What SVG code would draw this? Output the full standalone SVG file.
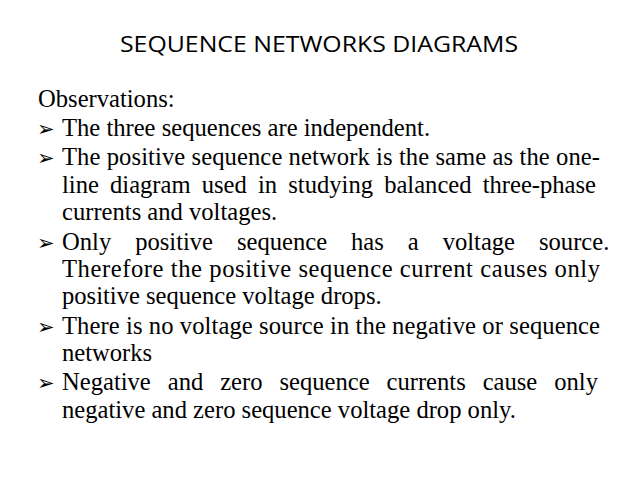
<svg xmlns="http://www.w3.org/2000/svg" width="638" height="478" viewBox="0 0 638 478">
<style>
.t{font-family:"Liberation Serif",serif;font-size:24.6px;fill:#000}
.b{font-family:"DejaVu Sans",sans-serif;font-size:21px;fill:#000}
.h{font-family:"Open Sans","Liberation Sans",sans-serif;font-size:21px;fill:#000}
</style>
<rect width="638" height="478" fill="#fff"/>
<text class="h" x="319" y="52" text-anchor="middle" textLength="398" lengthAdjust="spacingAndGlyphs">SEQUENCE NETWORKS DIAGRAMS</text>
<text class="t" x="38" y="107">Observations:</text>
<text class="b" x="37" y="136">➢</text>
<text class="t" x="62" y="136">The three sequences are independent.</text>
<text class="b" x="37" y="165">➢</text>
<text class="t" x="62" y="165" textLength="538" lengthAdjust="spacing">The positive sequence network is the same as the one-</text>
<text class="t" x="62" y="193" word-spacing="5">line diagram used in studying balanced three-phase</text>
<text class="t" x="62" y="220">currents and voltages.</text>
<text class="b" x="37" y="250">➢</text>
<text class="t" x="62" y="250" word-spacing="17.8">Only positive sequence has a voltage source.</text>
<text class="t" x="62" y="277" textLength="538" lengthAdjust="spacing">Therefore the positive sequence current causes only</text>
<text class="t" x="62" y="304">positive sequence voltage drops.</text>
<text class="b" x="37" y="334">➢</text>
<text class="t" x="62" y="334" textLength="538" lengthAdjust="spacing">There is no voltage source in the negative or sequence</text>
<text class="t" x="62" y="361">networks</text>
<text class="b" x="37" y="390">➢</text>
<text class="t" x="62" y="390" word-spacing="10.8">Negative and zero sequence currents cause only</text>
<text class="t" x="62" y="418">negative and zero sequence voltage drop only.</text>
</svg>
